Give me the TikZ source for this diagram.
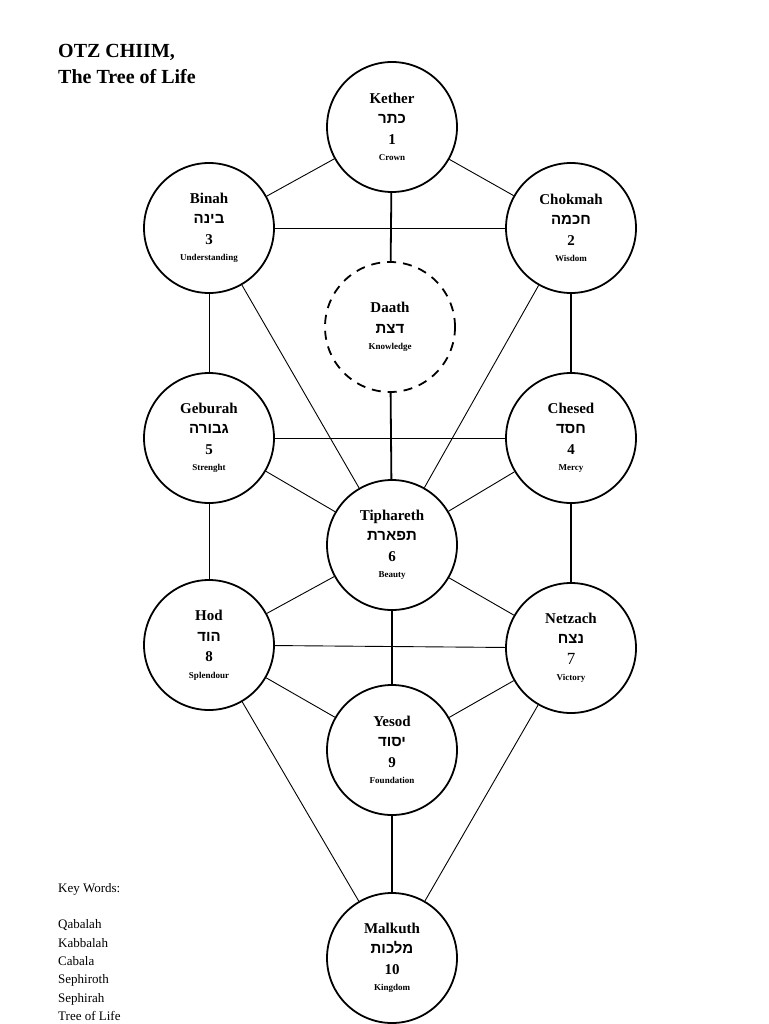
\documentclass[tikz,border=0pt]{standalone}
\usepackage{fontspec}
\setmainfont{Liberation Serif}
\newfontfamily\hebfont[Script=Hebrew]{Liberation Sans}
\TeXXeTstate=1
\newcommand{\heb}[1]{{\hebfont\bfseries\beginR #1\endR}}
\begin{document}
\begin{tikzpicture}[x=1pt,y=-1pt,
  seph/.style={circle,draw,line width=1.8pt,minimum size=130pt,inner sep=0pt,align=center,font=\fontsize{15}{20.5}\selectfont,fill=white},
  thin/.style={line width=0.9pt},
  thick/.style={line width=1.8pt},
  lbl/.style={font=\fontsize{9}{10}\selectfont\bfseries}]
\useasboundingbox (0,0) rectangle (768,1024);
\newcommand{\sm}[1]{{\fontsize{9}{10}\selectfont\bfseries #1}}
\node[seph] (ke) at (392,127) {\textbf{Kether}\\ \heb{כתר}\\ \textbf{1}\\[-4pt] \sm{Crown}};
\node[seph] (bi) at (209,228) {\textbf{Binah}\\ \heb{בינה}\\ \textbf{3}\\[-4pt] \sm{Understanding}};
\node[seph] (ch) at (571,228) {\textbf{Chokmah}\\ \heb{חכמה}\\ \textbf{2}\\[-4pt] \sm{Wisdom}};
\node[seph,dashed,dash pattern=on 9pt off 7pt] (da) at (390,327) {\textbf{Daath}\\ \heb{דצת}\\[-4pt] \sm{Knowledge}};
\node[seph] (ge) at (209,438) {\textbf{Geburah}\\ \heb{גבורה}\\ \textbf{5}\\[-4pt] \sm{Strenght}};
\node[seph] (cs) at (571,438) {\textbf{Chesed}\\ \heb{חסד}\\ \textbf{4}\\[-4pt] \sm{Mercy}};
\node[seph] (ti) at (392,545) {\textbf{Tiphareth}\\ \heb{תפארת}\\ \textbf{6}\\[-4pt] \sm{Beauty}};
\node[seph] (ho) at (209,645) {\textbf{Hod}\\ \heb{הוד}\\ \textbf{8}\\[-4pt] \sm{Splendour}};
\node[seph] (ne) at (571,648) {\textbf{Netzach}\\ \heb{נצח}\\ {\fontsize{17}{20}\selectfont 7}\\[-4pt] \sm{Victory}};
\node[seph] (ye) at (392,750) {\textbf{Yesod}\\ \heb{יסוד}\\ \textbf{9}\\[-4pt] \sm{Foundation}};
\node[seph] (ma) at (392,958) {\textbf{Malkuth}\\ \heb{מלכות}\\ \textbf{10}\\[-4pt] \sm{Kingdom}};
\draw[thin] (ke)--(bi); \draw[thin] (ke)--(ch); \draw[thin] (bi)--(ch);
\draw[thick] (ke)--(da); \draw[thick] (da)--(ti);
\draw[thin] (bi)--(ge); \draw[thin] (bi)--(ti); \draw[thin] (ch)--(ti);
\draw[thick] (ch)--(cs);
\draw[thin] (ge)--(cs); \draw[thin] (ge)--(ti); \draw[thin] (cs)--(ti);
\draw[thin] (ge)--(ho); \draw[thick] (cs)--(ne);
\draw[thin] (ti)--(ho); \draw[thin] (ti)--(ne); \draw[thick] (ti)--(ye);
\draw[thin] (ho)--(ne); \draw[thin] (ho)--(ye); \draw[thin] (ne)--(ye);
\draw[thin] (ho)--(ma); \draw[thin] (ne)--(ma); \draw[thick] (ye)--(ma);
\node[anchor=north west,align=left,font=\fontsize{20}{26}\selectfont\bfseries,inner sep=0pt] (title) at (58,44) {OTZ CHIIM,\\The Tree of Life};
\node[anchor=north west,align=left,font=\fontsize{13}{18.3}\selectfont,inner sep=0pt] (kw) at (58,883) {Key Words:\\[18.3pt]Qabalah\\Kabbalah\\Cabala\\Sephiroth\\Sephirah\\Tree of Life};
\end{tikzpicture}
\end{document}
